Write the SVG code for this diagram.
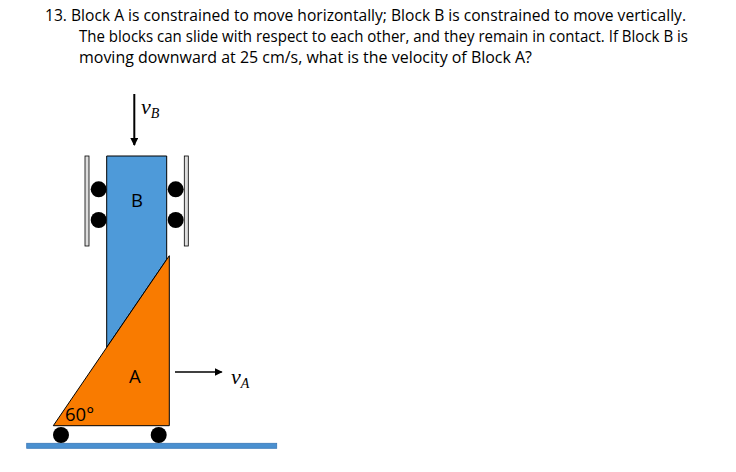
<svg xmlns="http://www.w3.org/2000/svg" width="736" height="472" viewBox="0 0 736 472">
<style>
.t{font-family:"Open Sans","Liberation Sans",Arial,sans-serif;font-size:15.5px;fill:#000}
.l{font-family:"Open Sans","Liberation Sans",Arial,sans-serif;font-size:18.5px;fill:#000}
.m{font-family:"Liberation Serif",serif;font-style:italic;font-size:22px}
.s{font-size:14px}
.blk{stroke:#000;stroke-width:1}
.rail{fill:#ddd;stroke:#000;stroke-width:0.8}
</style>
<defs><marker id="ah" markerWidth="8" markerHeight="8" refX="7" refY="4" orient="auto" markerUnits="userSpaceOnUse"><path d="M0,0L8,4L0,8z"/></marker></defs>
<text class="t" x="45" y="21" textLength="641" lengthAdjust="spacingAndGlyphs">13. Block A is constrained to move horizontally; Block B is constrained to move vertically.</text>
<text class="t" x="79" y="42" textLength="609" lengthAdjust="spacingAndGlyphs">The blocks can slide with respect to each other, and they remain in contact.  If Block B is</text>
<text class="t" x="79" y="63" textLength="453" lengthAdjust="spacingAndGlyphs">moving downward at 25 cm/s, what is the velocity of Block A?</text>
<rect x="26.7" y="443.3" width="250" height="5" fill="#4a90d0" stroke="#3a78b8" stroke-width="0.8"/>
<g id="railL"><rect class="rail" x="85" y="156" width="4" height="90"/></g>
<g id="railR"><rect class="rail" x="184.3" y="156" width="4" height="90"/></g>
<g id="rollers">
<circle cx="98.7" cy="189.3" r="8"/><circle cx="98.7" cy="220" r="8"/>
<circle cx="175.7" cy="189.3" r="8"/><circle cx="175.7" cy="220" r="8"/>
<circle cx="61" cy="435" r="8"/><circle cx="158.7" cy="435" r="8"/>
</g>
<g id="blockB"><polygon class="blk" fill="#4e9ad9" points="106.7,156 166.7,156 166.7,259.5 106.7,347.4"/>
<text class="l" x="131" y="207">B</text></g>
<g id="blockA"><polygon class="blk" fill="#f97b00" points="53.3,425.7 169.3,425.7 169.3,255.7"/>
<text class="l" x="129" y="383">A</text>
<text class="l" x="65" y="421">60°</text></g>
<g id="connectors" stroke="#000">
<line x1="134.3" y1="94" x2="134.3" y2="145" stroke-width="2" marker-end="url(#ah)"/>
<line x1="175" y1="372" x2="221.7" y2="372" stroke-width="1.5" marker-end="url(#ah)"/>
</g>
<text class="m" x="141" y="114">v<tspan class="s" dy="4">B</tspan></text>
<text class="m" x="231" y="384">v<tspan class="s" dy="4">A</tspan></text>
</svg>
